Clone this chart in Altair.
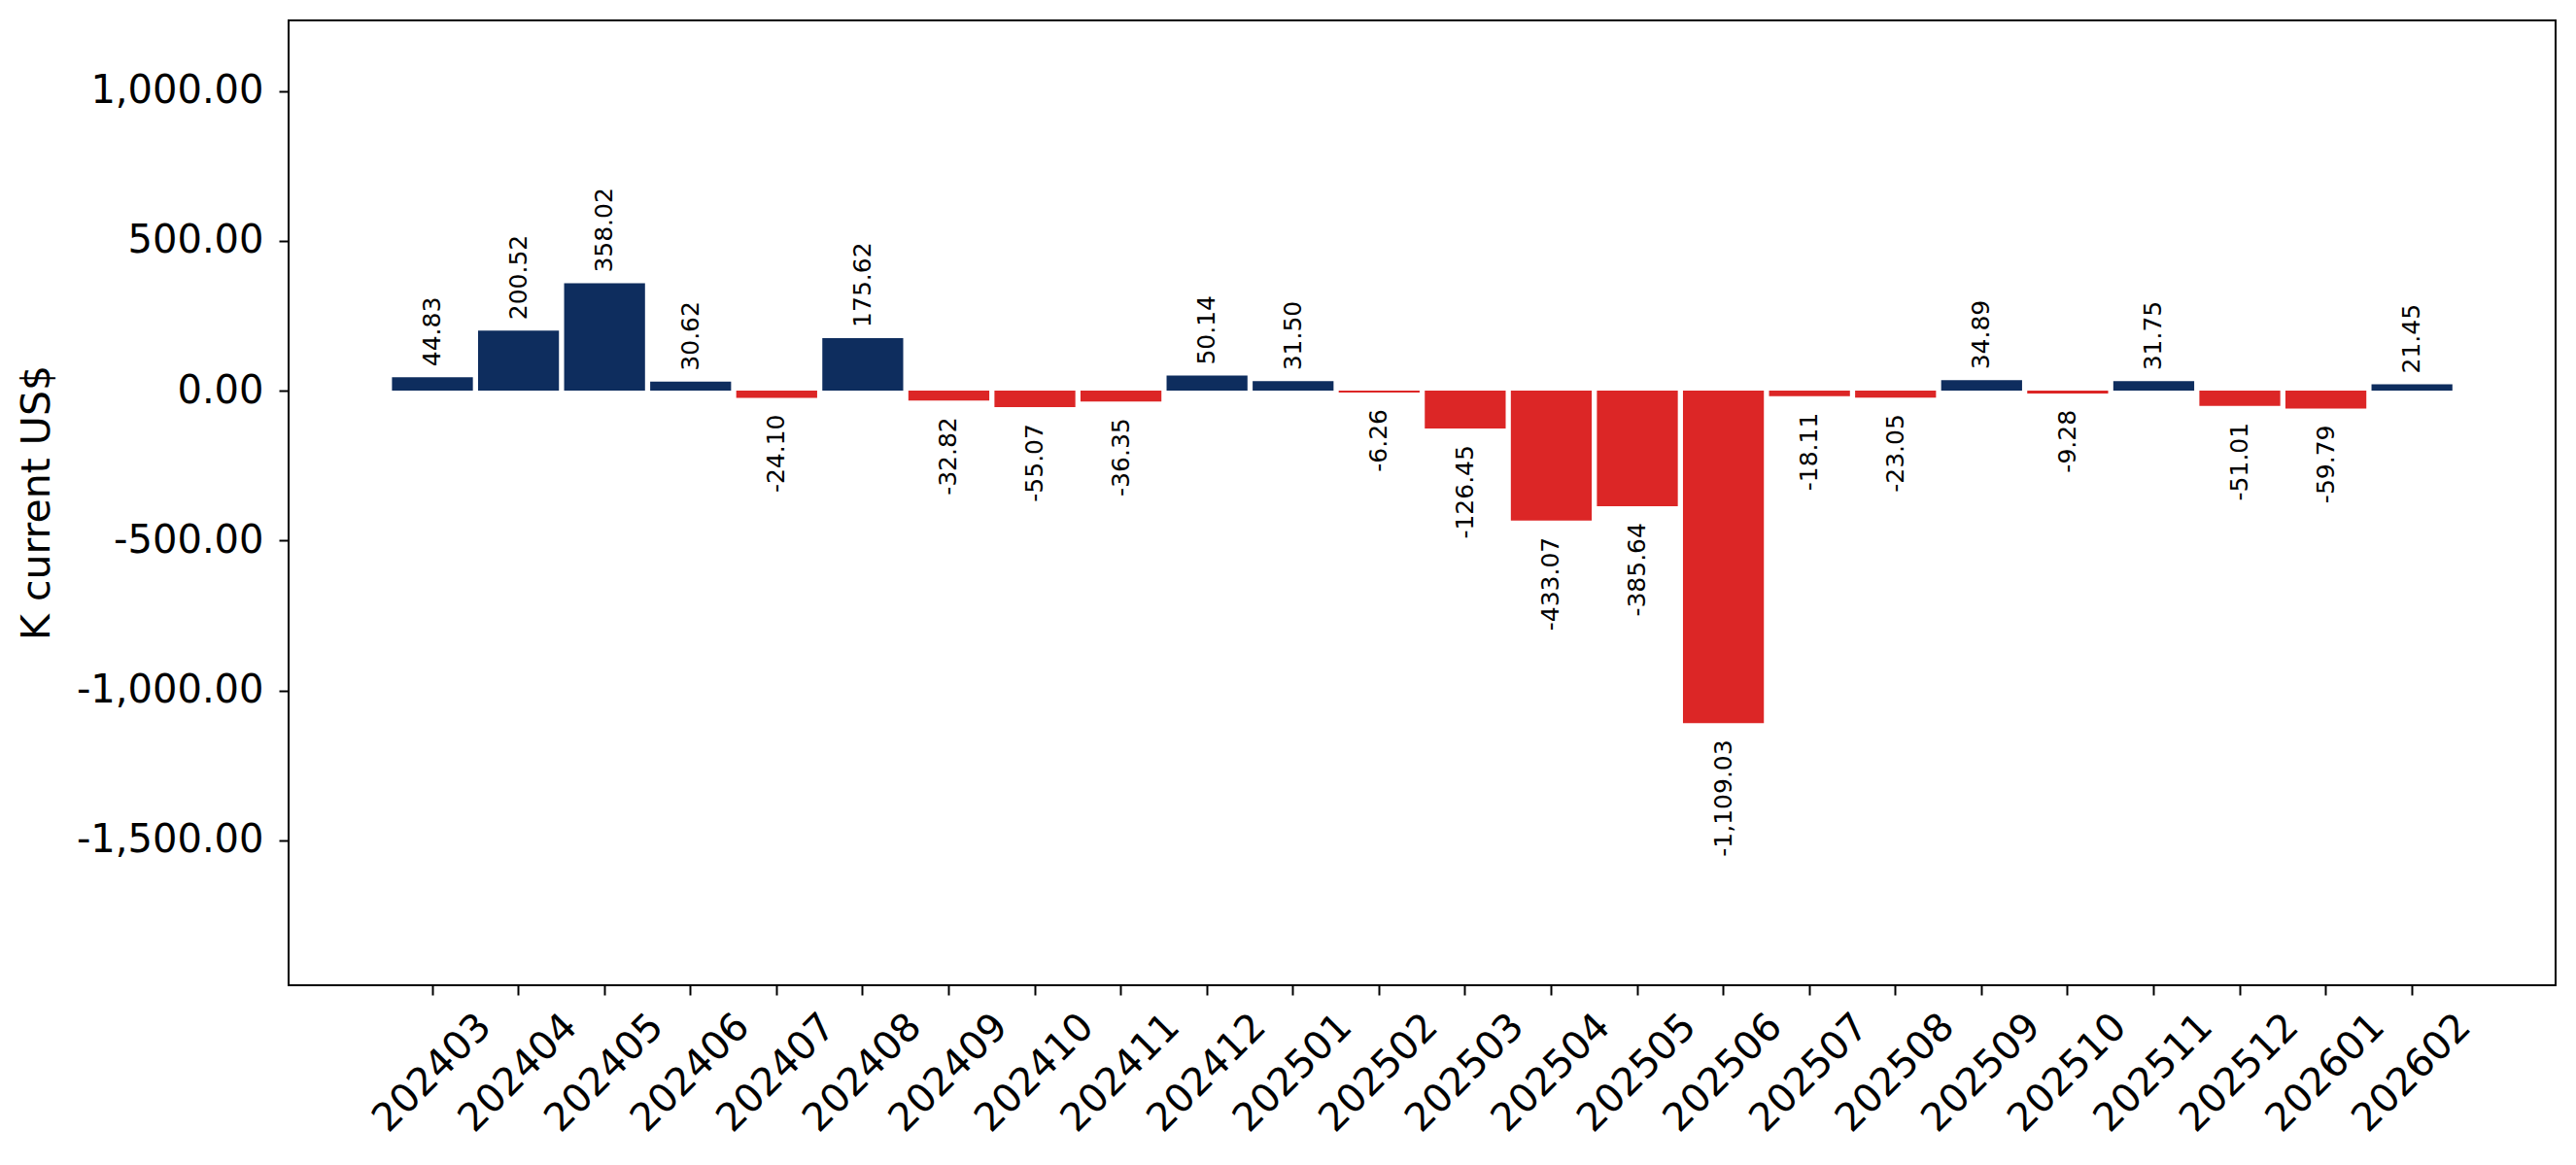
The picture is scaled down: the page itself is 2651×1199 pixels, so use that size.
import altair as alt
import pandas as pd

months = ["202403", "202404", "202405", "202406", "202407", "202408", "202409",
          "202410", "202411", "202412", "202501", "202502", "202503", "202504",
          "202505", "202506", "202507", "202508", "202509", "202510", "202511",
          "202512", "202601", "202602"]
values = [44.83, 200.52, 358.02, 30.62, -24.10, 175.62, -32.82, -55.07, -36.35,
          50.14, 31.50, -6.26, -126.45, -433.07, -385.64, -1109.03, -18.11,
          -23.05, 34.89, -9.28, 31.75, -51.01, -59.79, 21.45]
y_ticks = [-1500, -1000, -500, 0, 500, 1000]
y_title = "K current US$"

POS_COLOR = "#0E2D5E"
NEG_COLOR = "#DC2626"
FONT = "DejaVu Sans"

df = pd.DataFrame({"month": months, "value": values})
df["sign"] = ["pos" if v >= 0 else "neg" for v in values]
df["label"] = [f"{v:,.2f}" for v in values]

W, H = 2333, 993

x_scale = alt.Scale(paddingInner=0.06, paddingOuter=0, range=[106.4, 2226.8])

x_enc = alt.X(
    "month:N", sort=months, title=None,
    scale=x_scale,
    axis=alt.Axis(
        labelAngle=-45, labelAlign="center", labelBaseline="middle",
        labelPadding=80, labelFontSize=40, labelFont=FONT, labelColor="black",
        labelLimit=0,
        tickSize=10, tickWidth=2, tickColor="black", domain=False,
        bandPosition=0.5, labelOverlap=False, grid=False,
    ),
)
y_enc = alt.Y(
    "value:Q",
    scale=alt.Scale(domain=[-1983, 1235], nice=False, zero=False),
    axis=alt.Axis(
        values=y_ticks,
        labelExpr="replace(format(datum.value, ',.2f'), '\u2212', '-')",
        labelFontSize=40, labelFont=FONT, labelColor="black", labelPadding=16,
        labelLimit=0,
        tickSize=10, tickWidth=2, tickColor="black", domain=False, grid=False,
        title=y_title, titleFont=FONT, titleFontSize=41, titleFontWeight="normal",
        titleColor="black", titleAngle=270, titleAlign="center",
        titleBaseline="middle", titleX=-259, titleY=496, titleLimit=0,
    ),
)

base = alt.Chart(df)

bars = base.mark_bar().encode(
    x=x_enc,
    y=y_enc,
    color=alt.Color("sign:N", scale=alt.Scale(domain=["pos", "neg"],
                                              range=[POS_COLOR, NEG_COLOR]),
                    legend=None),
)

pos_text = base.transform_filter("datum.value >= 0").mark_text(
    angle=270, align="left", baseline="middle", fontSize=25, font=FONT,
    color="black", yOffset=-11,
).encode(x=alt.X("month:N", sort=months), y="value:Q", text="label:N")

neg_text = base.transform_filter("datum.value < 0").mark_text(
    angle=270, align="right", baseline="middle", fontSize=25, font=FONT,
    color="black", yOffset=17,
).encode(x=alt.X("month:N", sort=months), y="value:Q", text="label:N")

chart = alt.layer(bars, pos_text, neg_text).properties(
    width=W, height=H,
    autosize=alt.AutoSizeParams(type="none"),
    padding={"left": 297, "top": 21, "right": 21, "bottom": 185},
    background="white",
).configure_view(stroke="black", strokeWidth=2)

chart.save("out.html", embed_options={"renderer": "svg", "actions": False})
